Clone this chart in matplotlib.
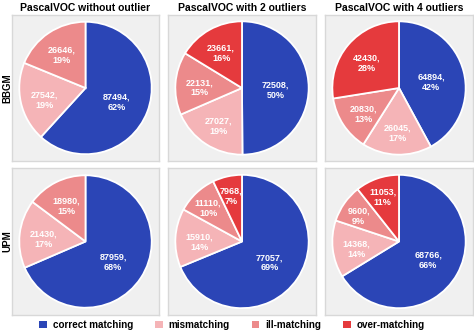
import math
import matplotlib
matplotlib.use("Agg")
import matplotlib.pyplot as plt
from matplotlib.patches import Patch

plt.rcParams['font.family'] = ['Liberation Sans', 'DejaVu Sans']

# slice categories, clockwise from 12 o'clock
categories = ['correct matching', 'mismatching', 'ill-matching', 'over-matching']
colors = ['#2b45b6', '#f5b4b7', '#ec8a8b', '#e53a3d']

col_titles = ['PascalVOC without outlier', 'PascalVOC with 2 outliers', 'PascalVOC with 4 outliers']
row_titles = ['BBGM', 'UPM']

# counts per method (rows) and dataset (columns)
bbgm_counts = [
    [87494, 27542, 26646, 0],
    [72508, 27027, 22131, 23661],
    [64894, 26045, 20830, 42430],
]
bbgm_pcts = [
    [62, 19, 19, 0],
    [50, 19, 15, 16],
    [42, 17, 13, 28],
]
upm_counts = [
    [87959, 21430, 18980, 0],
    [77057, 15910, 11110, 7968],
    [68766, 14368, 9600, 11053],
]
upm_pcts = [
    [68, 17, 15, 0],
    [69, 14, 10, 7],
    [66, 14, 9, 11],
]

fig = plt.figure(figsize=(4.74, 3.33), dpi=100)
W, H = 474.0, 333.0
col_left = [12, 168, 325]
col_width = [147, 148, 148]
row_top = [15, 168]
row_height = [146, 147]

rows = [(bbgm_counts, bbgm_pcts), (upm_counts, upm_pcts)]
for r, (counts, pcts) in enumerate(rows):
    for c in range(3):
        ax = fig.add_axes([col_left[c] / W, 1 - (row_top[r] + row_height[r]) / H,
                           col_width[c] / W, row_height[r] / H])
        vals = counts[c]
        keep = [i for i, v in enumerate(vals) if v > 0]
        wedges, _ = ax.pie([vals[i] for i in keep], colors=[colors[i] for i in keep],
                           startangle=90, counterclock=False, frame=True,
                           wedgeprops=dict(edgecolor='white', linewidth=1.3))
        # value labels inside the slices, small slices pushed outward
        for w, i in zip(wedges, keep):
            mid = math.radians((w.theta1 + w.theta2) / 2)
            frac = (w.theta2 - w.theta1) / 360
            if i == 0:
                d = 0.5
            elif frac < 0.12:
                d = 0.74
            else:
                d = 0.64
            ax.text(d * math.cos(mid), d * math.sin(mid) - 0.04,
                    f'{vals[i]},\n{pcts[c][i]}%', color='white', fontsize=6.5,
                    fontweight='bold', ha='center', va='center', linespacing=1.2)
        ax.set_xlim(-1.11, 1.11)
        ax.set_ylim(-1.11, 1.11)
        ax.set_aspect('equal', adjustable='datalim')
        ax.set_xticks([])
        ax.set_yticks([])
        ax.set_facecolor('#f0f0f0')
        for s in ax.spines.values():
            s.set_color('#d8d8d8')
            s.set_linewidth(1.0)
        if r == 0:
            ax.set_title(col_titles[c], fontsize=7.5, fontweight='bold', pad=3)
        if c == 0:
            ax.set_ylabel(row_titles[r], fontsize=7, fontweight='bold', labelpad=0)

handles = [Patch(facecolor=col, edgecolor='none', label=lab) for col, lab in zip(colors, categories)]
fig.legend(handles=handles, loc='center', bbox_to_anchor=(232 / W, 1 - 325 / H), ncol=4,
           frameon=False, prop=dict(size=7.1, weight='bold'), handlelength=0.8,
           handleheight=0.8, handletextpad=0.6, columnspacing=2.2, borderaxespad=0)

fig.savefig('out.png', dpi=100)
